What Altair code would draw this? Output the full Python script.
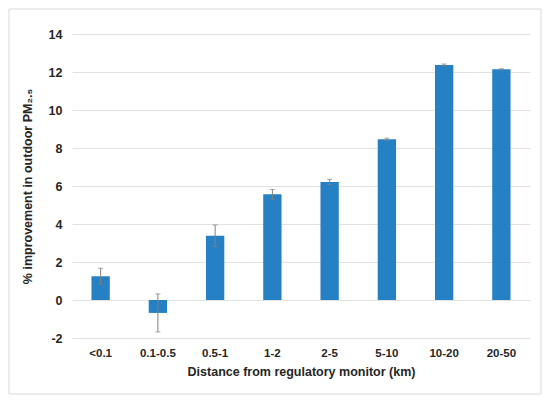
import altair as alt
import pandas as pd

# distance bins and % improvement
bins = ["<0.1", "0.1-0.5", "0.5-1", "1-2", "2-5", "5-10", "10-20", "20-50"]
improvement = [1.25, -0.68, 3.38, 5.56, 6.21, 8.46, 12.37, 12.14]
err = [0.42, 1.0, 0.57, 0.26, 0.14, 0.06, 0.05, 0.03]
y_ticks = [-2, 0, 2, 4, 6, 8, 10, 12, 14]

df = pd.DataFrame({"bin": bins, "value": improvement, "err": err})
df["lo"] = df["value"] - df["err"]
df["hi"] = df["value"] + df["err"]

FONT = "Liberation Sans"
TEXT = "#262626"

x_axis = alt.Axis(
    labelAngle=0, domain=False, ticks=False, labelPadding=9,
    labelFontSize=11.5, titleFontSize=12.5, titlePadding=7,
)
x = alt.X(
    "bin:N",
    sort=bins,
    title="Distance from regulatory monitor (km)",
    scale=alt.Scale(paddingInner=0.68, paddingOuter=0.34),
    axis=x_axis,
)
y_scale = alt.Scale(domain=[-2, 14], nice=False)
y_axis = alt.Axis(
    values=y_ticks, domain=False, ticks=False, labelOverlap=False,
    labelExpr="'' + datum.value",
    labelPadding=10, labelFontSize=12.5, titleFontSize=12.5,
    titleX=-38, titleY=152, gridColor="#e2e2e2",
)
y_title = "% improvement in outdoor PM₂.₅"

bars = alt.Chart(df).mark_bar(color="#2681c4").encode(
    x=x,
    y=alt.Y("value:Q", scale=y_scale, title=y_title, axis=y_axis),
)

rules = alt.Chart(df).mark_rule(color="#808080", strokeWidth=1).encode(
    x=x, y=alt.Y("lo:Q", scale=y_scale, title=y_title, axis=y_axis), y2="hi:Q"
)
cap_lo = alt.Chart(df).mark_tick(color="#808080", size=5, thickness=1).encode(
    x=x, y=alt.Y("lo:Q", scale=y_scale, title=y_title, axis=y_axis)
)
cap_hi = alt.Chart(df).mark_tick(color="#808080", size=5, thickness=1).encode(
    x=x, y=alt.Y("hi:Q", scale=y_scale, title=y_title, axis=y_axis)
)

# outer frame around the whole figure
frame = alt.Chart(alt.Data(values=[{}])).mark_rect(
    fill=None, stroke="#d9d9d9", strokeWidth=1
).encode(
    x=alt.value(-63), x2=alt.value(469), y=alt.value(-25), y2=alt.value(360)
)

chart = alt.layer(bars, rules, cap_lo, cap_hi, frame).properties(
    width=458,
    height=304,
    autosize=alt.AutoSizeParams(type="none"),
    padding={"left": 64, "top": 26, "right": 12, "bottom": 57},
    background="white",
).configure_view(
    stroke=None
).configure_axis(
    labelFont=FONT, titleFont=FONT, labelColor=TEXT, titleColor=TEXT,
    labelFontWeight="bold", titleFontWeight="bold",
)

chart.save("out.html", embed_options={"renderer": "svg", "actions": False})
